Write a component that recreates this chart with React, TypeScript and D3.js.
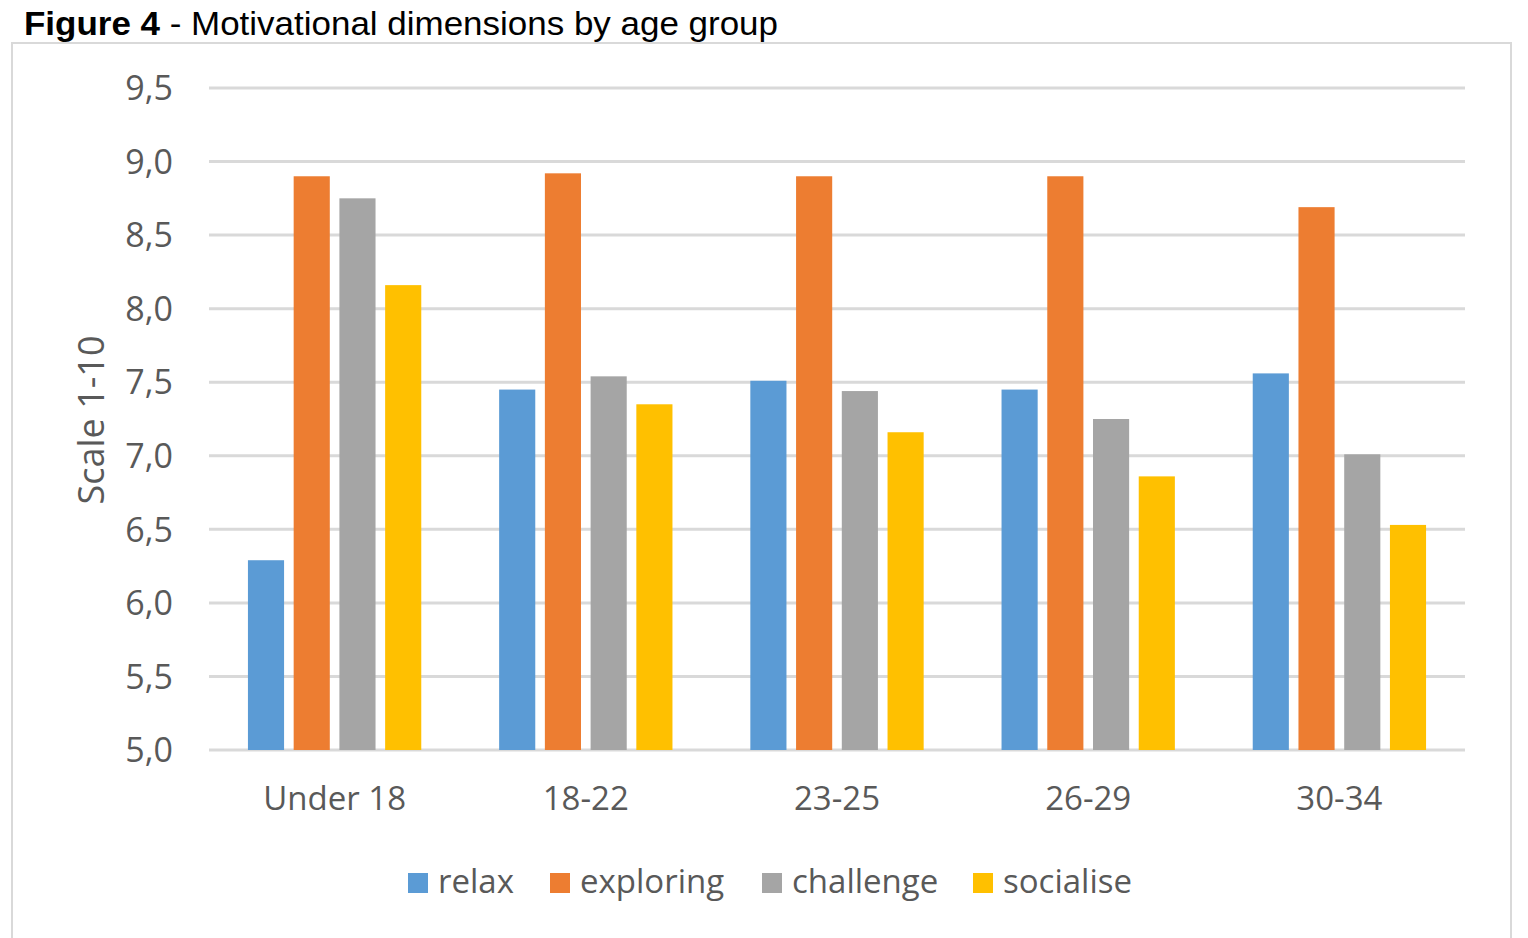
import React from "react";
import * as d3 from "d3";

// data
const categories = ["Under 18", "18-22", "23-25", "26-29", "30-34"];
const seriesNames = ["relax", "exploring", "challenge", "socialise"];
const relax = [6.29, 7.45, 7.51, 7.45, 7.56];
const exploring = [8.9, 8.92, 8.9, 8.9, 8.69];
const challenge = [8.75, 7.54, 7.44, 7.25, 7.01];
const socialise = [8.16, 7.35, 7.16, 6.86, 6.53];
const yTicks = [5.0, 5.5, 6.0, 6.5, 7.0, 7.5, 8.0, 8.5, 9.0, 9.5];

const colors = ["#5B9BD5", "#ED7D31", "#A5A5A5", "#FFC000"];
const seriesValues = [relax, exploring, challenge, socialise];

const W = 1528;
const H = 938;
const plot = { left: 209, right: 1465, top: 88, bottom: 750 };
const textGray = "#595959";
const font = "'Open Sans', sans-serif";

function App() {
  const x0 = d3
    .scaleBand<string>()
    .domain(categories)
    .range([plot.left, plot.right])
    .padding(0);

  const bw = x0.bandwidth();
  // bars sit inside each group band, leaving the outer gap
  const x1 = d3
    .scaleBand<string>()
    .domain(seriesNames)
    .range([bw * 0.155, bw * 0.845])
    .paddingInner(0.21);

  const y = d3
    .scaleLinear()
    .domain([5, 9.5])
    .range([plot.bottom, plot.top]);

  const fmt = (v: number) => d3.format(".1f")(v).replace(".", ",");

  // legend key positions
  const legendX = [408, 550, 762, 973];

  return (
    <svg
      width={W}
      height={H}
      style={{ position: "absolute", left: 0, top: 0, background: "#fff" }}
    >
      <rect x={0} y={0} width={W} height={H} fill="#fff" />
      {/* title */}
      <text
        x={24}
        y={35}
        fontFamily="'Liberation Sans', Arial, sans-serif"
        fontSize={34}
        fill="#000"
        textLength={754}
        lengthAdjust="spacingAndGlyphs"
      >
        <tspan fontWeight="bold">Figure 4</tspan>
        <tspan> - Motivational dimensions by age group</tspan>
      </text>

      {/* chart frame */}
      <rect
        x={12}
        y={43}
        width={1499}
        height={920}
        fill="none"
        stroke="#D9D9D9"
        strokeWidth={2}
      />

      {/* gridlines */}
      <g>
        {yTicks.map((t) => (
          <line
            key={t}
            x1={plot.left}
            x2={plot.right}
            y1={y(t)}
            y2={y(t)}
            stroke="#D9D9D9"
            strokeWidth={3}
          />
        ))}
      </g>

      {/* y tick labels */}
      <g fontFamily={font} fontSize={34} fill={textGray} textAnchor="end">
        {yTicks.map((t) => (
          <text key={t} x={173} y={y(t)} dy="0.36em">
            {fmt(t)}
          </text>
        ))}
      </g>

      {/* bars */}
      {seriesValues.map((vals, si) => (
        <g key={seriesNames[si]} fill={colors[si]}>
          {vals.map((v, ci) => (
            <rect
              key={categories[ci]}
              x={(x0(categories[ci]) as number) + (x1(seriesNames[si]) as number)}
              y={y(v)}
              width={x1.bandwidth()}
              height={y(5) - y(v)}
            />
          ))}
        </g>
      ))}

      {/* x labels */}
      <g fontFamily={font} fontSize={33} fill={textGray} textAnchor="middle">
        {categories.map((c) => (
          <text key={c} x={(x0(c) as number) + bw / 2} y={810}>
            {c}
          </text>
        ))}
      </g>

      {/* y axis title */}
      <text
        transform={`translate(104, 420) rotate(-90)`}
        fontFamily={font}
        fontSize={36}
        fill={textGray}
        textAnchor="middle"
      >
        Scale 1-10
      </text>

      {/* legend */}
      <g fontFamily={font} fontSize={33} fill={textGray}>
        {seriesNames.map((s, i) => (
          <g key={s}>
            <rect x={legendX[i]} y={873} width={20} height={20} fill={colors[i]} />
            <text x={legendX[i] + 30} y={893}>
              {s}
            </text>
          </g>
        ))}
      </g>
    </svg>
  );
}

export default App;
